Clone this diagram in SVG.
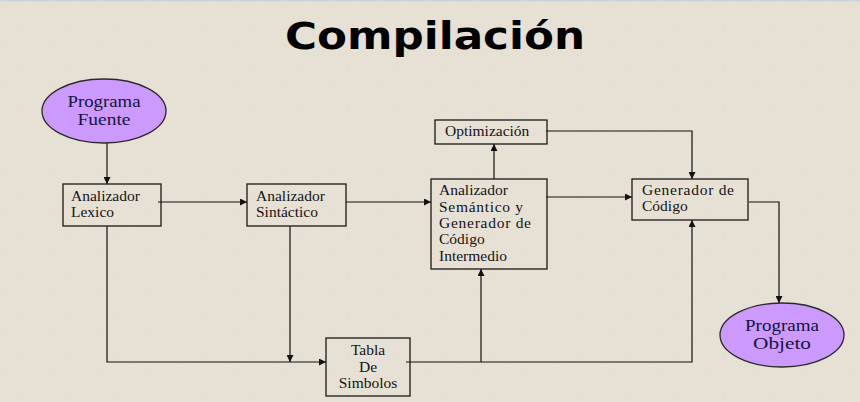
<svg xmlns="http://www.w3.org/2000/svg" width="860" height="402" viewBox="0 0 860 402">
<defs>
<marker id="ah" viewBox="0 0 10 10" refX="10" refY="5" markerWidth="7" markerHeight="7" markerUnits="userSpaceOnUse" orient="auto">
<path d="M0,0 L10,5 L0,10 z" fill="#111"/>
</marker>
<pattern id="grain" width="47" height="41" patternUnits="userSpaceOnUse">
<rect width="47" height="41" fill="#e7e0d4"/>
<circle cx="4" cy="5" r="0.6" fill="#d6cfc3"/>
<circle cx="31" cy="13" r="0.5" fill="#d8d1c5"/>
<circle cx="19" cy="29" r="0.6" fill="#d5cec2"/>
<circle cx="40" cy="35" r="0.5" fill="#d9d2c6"/>
<circle cx="11" cy="20" r="0.5" fill="#efe9e0"/>
<circle cx="26" cy="3" r="0.5" fill="#efe9e0"/>
<circle cx="37" cy="24" r="0.5" fill="#eee8df"/>
<circle cx="8" cy="37" r="0.5" fill="#dad3c8"/>
</pattern>
</defs>
<style>
.box{fill:none;stroke:#1a1a1a;stroke-width:1.3}
.ell{fill:#cc99ff;stroke:#2a2a2a;stroke-width:1.3}
.t{font-family:"Liberation Serif","Times New Roman",serif;font-size:15.5px;fill:#141414}
.te{font-family:"Liberation Serif","Times New Roman",serif;font-size:17px;fill:#14143c;text-anchor:middle}
.tm{text-anchor:middle}
.c{fill:none;stroke:#111;stroke-width:1.2}
.title{font-family:"DejaVu Sans",Verdana,sans-serif;font-weight:bold;font-size:37px;fill:#000}
</style>
<rect width="860" height="402" fill="url(#grain)"/>
<rect width="860" height="1.5" fill="#c9d3e2"/>
<text class="title" x="285" y="49" textLength="300" lengthAdjust="spacingAndGlyphs">Compilación</text>

<g id="connectors">
<line class="c" x1="107" y1="142" x2="107" y2="184" marker-end="url(#ah)"/>
<line class="c" x1="158" y1="202" x2="247" y2="202" marker-end="url(#ah)"/>
<line class="c" x1="346" y1="202" x2="431" y2="202" marker-end="url(#ah)"/>
<line class="c" x1="494" y1="179" x2="494" y2="144" marker-end="url(#ah)"/>
<line class="c" x1="546" y1="197" x2="632" y2="197" marker-end="url(#ah)"/>
<polyline class="c" points="546,131 692,131 692,179" marker-end="url(#ah)"/>
<polyline class="c" points="749,202 779,202 779,303" marker-end="url(#ah)"/>
<polyline class="c" points="107,226 107,362 326,362" marker-end="url(#ah)"/>
<line class="c" x1="290" y1="226" x2="290" y2="362" marker-end="url(#ah)"/>
<polyline class="c" points="406,362 692,362 692,220" marker-end="url(#ah)"/>
<line class="c" x1="481" y1="362" x2="481" y2="269" marker-end="url(#ah)"/>
</g>

<g id="programa-fuente">
<ellipse class="ell" cx="104" cy="111" rx="62" ry="32"/>
<text class="te" x="104" y="107" textLength="73" lengthAdjust="spacingAndGlyphs">Programa</text>
<text class="te" x="104" y="125" textLength="53" lengthAdjust="spacingAndGlyphs">Fuente</text>
</g>

<g id="analizador-lexico">
<rect class="box" x="63" y="184" width="98" height="42"/>
<text class="t" x="71" y="201">Analizador</text>
<text class="t" x="71" y="217">Lexico</text>
</g>

<g id="analizador-sintactico">
<rect class="box" x="247" y="184" width="99" height="42"/>
<text class="t" x="256" y="201">Analizador</text>
<text class="t" x="256" y="217">Sintáctico</text>
</g>

<g id="optimizacion">
<rect class="box" x="435" y="120" width="112" height="24"/>
<text class="t" x="445" y="136">Optimización</text>
</g>

<g id="analizador-semantico">
<rect class="box" x="431" y="179" width="116" height="90"/>
<text class="t" x="439" y="195">Analizador</text>
<text class="t" x="439" y="212" textLength="84" lengthAdjust="spacing">Semántico y</text>
<text class="t" x="439" y="228" textLength="92" lengthAdjust="spacing">Generador de</text>
<text class="t" x="439" y="244">Código</text>
<text class="t" x="439" y="261">Intermedio</text>
</g>

<g id="generador-codigo">
<rect class="box" x="632" y="179" width="116" height="41"/>
<text class="t" x="642" y="195" textLength="92" lengthAdjust="spacing">Generador de</text>
<text class="t" x="642" y="211">Código</text>
</g>

<g id="tabla-simbolos">
<rect class="box" x="326" y="338" width="84" height="58"/>
<text class="t tm" x="368" y="355">Tabla</text>
<text class="t tm" x="368" y="372">De</text>
<text class="t tm" x="368" y="388">Simbolos</text>
</g>

<g id="programa-objeto">
<ellipse class="ell" cx="782" cy="335" rx="62" ry="32"/>
<text class="te" x="782" y="331" textLength="74" lengthAdjust="spacingAndGlyphs">Programa</text>
<text class="te" x="782" y="349" textLength="58" lengthAdjust="spacingAndGlyphs">Objeto</text>
</g>
</svg>
